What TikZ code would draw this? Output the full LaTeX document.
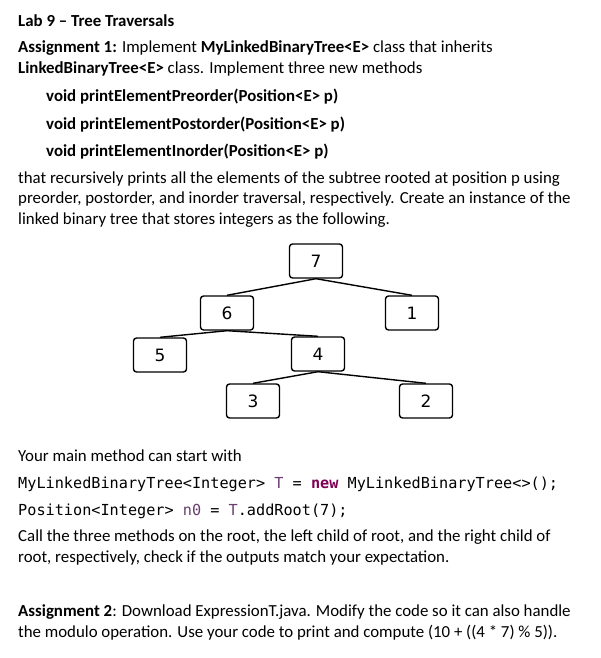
\documentclass[tikz,border=0pt]{standalone}
\usepackage{fontspec}
\setmainfont{Carlito}
\newfontfamily\codefont{DejaVu Sans Mono}
\newfontfamily\treefont{DejaVu Sans}
\definecolor{kw}{HTML}{7F0055}
\definecolor{var}{HTML}{6A3E6E}
\begin{document}
\begin{tikzpicture}[x=1pt,y=-1pt,
  txt/.style={anchor=west,inner sep=0pt,font=\fontsize{16.85}{20}\selectfont},
  code/.style={anchor=west,inner sep=0pt,font=\codefont\fontsize{15.2}{18}\selectfont},
  tnode/.style={draw,line width=1.4pt,rounded corners=3pt,minimum width=53pt,minimum height=34pt,font=\treefont\fontsize{17}{20}\selectfont,inner sep=0pt},
  edge/.style={line width=1.4pt}]
\useasboundingbox (0,0) rectangle (601,658);
\node[txt] (l1) at (18,21) {\textbf{Lab 9 – Tree Traversals}};
\node[txt] (l2) at (18,48) {\textbf{Assignment 1:} Implement \textbf{MyLinkedBinaryTree<E>} class that inherits};
\node[txt] (l3) at (18,69) {\textbf{LinkedBinaryTree<E>} class. Implement three new methods};
\node[txt] (l4) at (46,97) {\textbf{void printElementPreorder(Position<E> p)}};
\node[txt] (l5) at (46,125) {\textbf{void printElementPostorder(Position<E> p)}};
\node[txt] (l6) at (46,152) {\textbf{void printElementInorder(Position<E> p)}};
\node[txt] (l7) at (18,179) {that recursively prints all the elements of the subtree rooted at position p using};
\node[txt] (l8) at (18,199) {preorder, postorder, and inorder traversal, respectively. Create an instance of the};
\node[txt] (l9) at (18,220) {linked binary tree that stores integers as the following.};

\node[tnode] (n7) at (316,261) {7};
\node[tnode] (n6) at (227,313) {6};
\node[tnode] (n1) at (412,313) {1};
\node[tnode] (n5) at (160,355) {5};
\node[tnode] (n4) at (318,354) {4};
\node[tnode] (n3) at (253,401) {3};
\node[tnode] (n2) at (426,401) {2};
\draw[edge] (n7.south) -- (n6.north);
\draw[edge] (n7.south) -- (n1.north);
\draw[edge] (n6.south) -- (n5.north);
\draw[edge] (n6.south) -- (n4.north);
\draw[edge] (n4.south) -- (n3.north);
\draw[edge] (n4.south) -- (n2.north);

\node[txt] (m1) at (18,456) {Your main method can start with};
\node[code] (c1) at (18,484) {MyLinkedBinaryTree<Integer> \textcolor{var}{T} = \textcolor{kw}{\textbf{new}} MyLinkedBinaryTree<>();};
\node[code] (c2) at (18,511) {Position<Integer> \textcolor{var}{n0} = \textcolor{var}{T}.addRoot(7);};
\node[txt] (m2) at (18,537) {Call the three methods on the root, the left child of root, and the right child of};
\node[txt] (m3) at (18,558) {root, respectively, check if the outputs match your expectation.};
\node[txt] (a1) at (18,612) {\textbf{Assignment 2}: Download ExpressionT.java. Modify the code so it can also handle};
\node[txt] (a2) at (18,633) {the modulo operation. Use your code to print and compute (10 + ((4 * 7) \% 5)).};
\end{tikzpicture}
\end{document}
